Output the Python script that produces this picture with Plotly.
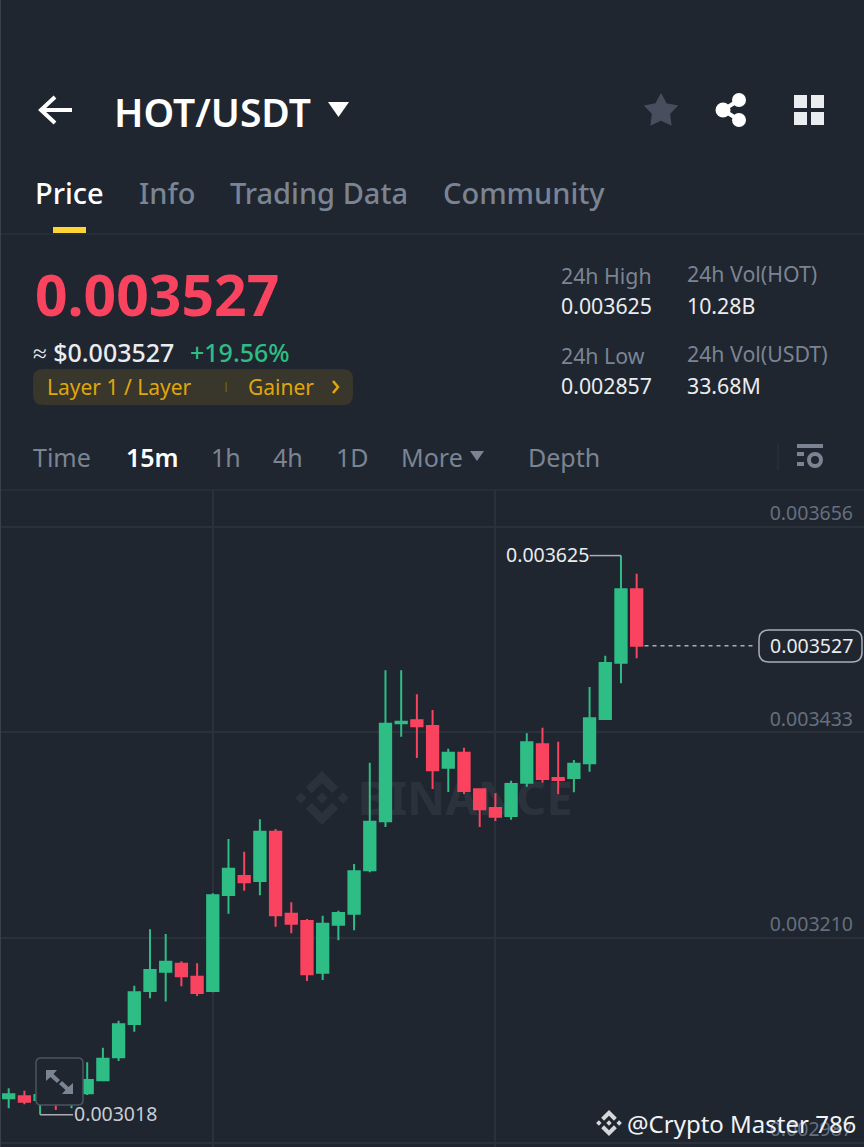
import numpy as np
import plotly.graph_objects as go

W, H = 864, 1147
BG = "#1F2630"
GRID = "#2B313B"
GREEN = "#2EBD85"
RED = "#F9435F"
GREY = "#7B8492"
WHITE = "#EAECEF"
FONT = "Noto Sans"

# candles (15m)
opens = [0.0030357, 0.0030379, 0.0030339, 0.0030470, 0.0030383, 0.0030412, 0.0030553, 0.0030803, 0.0031164, 0.0031523,
         0.0031732, 0.0031819, 0.0031678, 0.0031523, 0.0032565, 0.0032771, 0.0032717, 0.0033252, 0.0032362, 0.0032283,
         0.0031721, 0.0032242, 0.0032362, 0.0032833, 0.0033365, 0.0034429, 0.0034462, 0.0034400, 0.0033947, 0.0034110,
         0.0033712, 0.0033510, 0.0033422, 0.0033784, 0.0034201, 0.0033835, 0.0033835, 0.0033995, 0.0034476, 0.0035087,
         0.0035884]
highs = [0.0030466, 0.0030440, 0.0030447, 0.0030534, 0.0030578, 0.0030749, 0.0030907, 0.0031200, 0.0031580, 0.0032192,
         0.0032141, 0.0031845, 0.0031823, 0.0032583, 0.0033173, 0.0033035, 0.0033387, 0.0033281, 0.0032486, 0.0032304,
         0.0032340, 0.0032394, 0.0032901, 0.0034001, 0.0035004, 0.0035004, 0.0034744, 0.0034573, 0.0034153, 0.0034164,
         0.0033723, 0.0033669, 0.0033806, 0.0034320, 0.0034381, 0.0034229, 0.0034031, 0.0034823, 0.0035163, 0.0036250,
         0.0036053]
lows = [0.0030249, 0.0030292, 0.0030180, 0.0030230, 0.0030250, 0.0030393, 0.0030553, 0.0030763, 0.0031081, 0.0031443,
        0.0031410, 0.0031573, 0.0031468, 0.0031508, 0.0032362, 0.0032612, 0.0032562, 0.0032221, 0.0032149, 0.0031631,
        0.0031642, 0.0032073, 0.0032182, 0.0032811, 0.0033303, 0.0034284, 0.0034052, 0.0033716, 0.0033683, 0.0033661,
        0.0033303, 0.0033368, 0.0033382, 0.0033741, 0.0033784, 0.0033658, 0.0033680, 0.0033904, 0.0034476, 0.0034863,
        0.0035135]
closes = [0.0030401, 0.0030320, 0.0030393, 0.0030350, 0.0030491, 0.0030556, 0.0030788, 0.0031161, 0.0031508, 0.0031751,
          0.0031840, 0.0031682, 0.0031500, 0.0032562, 0.0032850, 0.0032703, 0.0033252, 0.0032344, 0.0032253, 0.0031704,
          0.0032253, 0.0032370, 0.0032822, 0.0033360, 0.0034425, 0.0034446, 0.0034396, 0.0033919, 0.0034110, 0.0033694,
          0.0033495, 0.0033415, 0.0033770, 0.0034223, 0.0033824, 0.0033813, 0.0033990, 0.0034483, 0.0035084, 0.0035884,
          0.0035270]
candle_x = list(range(len(opens)))
grid_x = [13, 31]
price_ticks = [0.003656, 0.003433, 0.003210, 0.002987]

pair = "HOT/USDT"
tabs = ["Price", "Info", "Trading Data", "Community"]
last_price = "0.003527"
usd_price = "≈ $0.003527"
change = "+19.56%"
stats = [("24h High", "0.003625"), ("24h Low", "0.002857"), ("24h Vol(HOT)", "10.28B"), ("24h Vol(USDT)", "33.68M")]
intervals = ["Time", "15m", "1h", "4h", "1D", "More", "Depth"]


def P(x, y):
    return f"{x / W:.5f},{1 - y / H:.5f}"


def poly(points):
    return "M" + " L".join(P(x, y) for x, y in points) + " Z"


def rrect(x0, y0, x1, y1, r):
    return (f"M{P(x0 + r, y0)} L{P(x1 - r, y0)} Q{P(x1, y0)} {P(x1, y0 + r)} L{P(x1, y1 - r)} Q{P(x1, y1)} {P(x1 - r, y1)} "
            f"L{P(x0 + r, y1)} Q{P(x0, y1)} {P(x0, y1 - r)} L{P(x0, y0 + r)} Q{P(x0, y0)} {P(x0 + r, y0)} Z")


shapes = []
annotations = []


def fill(path, color, layer="above"):
    shapes.append(dict(type="path", xref="paper", yref="paper", path=path, fillcolor=color, line=dict(width=0), layer=layer))


def stroke(path, color, width=2, layer="above"):
    shapes.append(dict(type="path", xref="paper", yref="paper", path=path, line=dict(color=color, width=width), layer=layer))


def circle(cx, cy, r, color, line=None):
    shapes.append(dict(type="circle", xref="paper", yref="paper", x0=(cx - r) / W, x1=(cx + r) / W,
                       y0=1 - (cy + r) / H, y1=1 - (cy - r) / H,
                       fillcolor=color, line=dict(width=line[1], color=line[0]) if line else dict(width=0)))


def text(s, x, y, size, color, anchor="left", weight=400):
    # glyphs start a touch right of the anchor, so pull back a little
    annotations.append(dict(text=s, xref="paper", yref="paper", x=(x - 1.5) / W, y=1 - y / H, xanchor=anchor, yanchor="middle",
                            showarrow=False, borderpad=0, font=dict(family=FONT, size=size, color=color, weight=weight)))


def logo(cx, cy, s, color, layer="above"):
    # the little Binance diamond mark
    for dx, r in [(0, 0.21), (-0.78, 0.21), (0.78, 0.21)]:
        fill(poly([(cx + dx * s, cy - r * s), (cx + (dx + r) * s, cy), (cx + dx * s, cy + r * s), (cx + (dx - r) * s, cy)]), color, layer)
    for sign in (-1, 1):
        chevron = [(0, 1), (0.6, 0.4), (0.38, 0.18), (0, 0.56), (-0.38, 0.18), (-0.6, 0.4)]
        fill(poly([(cx + a * s, cy + sign * b * s) for a, b in chevron]), color, layer)


# header
stroke("M" + P(72, 110) + " L" + P(42, 110) + " M" + P(55, 97) + " L" + P(41, 110) + " L" + P(55, 123), "#FFFFFF", 4)
text(pair, 114, 112, 39, "#FFFFFF", weight=600)
fill(poly([(328, 102), (349, 102), (338.5, 117)]), "#FFFFFF")

angles = np.deg2rad(np.arange(-90, 270, 36))
radii = np.array([16, 8.5] * 5)
star = list(zip(661 + radii * np.cos(angles), 111 + radii * np.sin(angles)))
fill(poly(star), "#474F5E")
stroke(poly(star), "#474F5E", 2)

stroke("M" + P(739, 100) + " L" + P(723, 110) + " L" + P(739, 120), "#FFFFFF", 4)
circle(739, 100, 7, "#FFFFFF")
circle(723, 110, 7.5, "#FFFFFF")
circle(739, 120, 7, "#FFFFFF")

for x0 in (794, 811):
    for y0 in (95, 112):
        fill(poly([(x0, y0), (x0 + 13, y0), (x0 + 13, y0 + 13), (x0, y0 + 13)]), "#EAECEF")

# tabs
for label, x in zip(tabs, [35, 139, 230, 443]):
    text(label, x, 193, 29, "#FFFFFF" if label == "Price" else GREY, weight=500)
fill(poly([(53, 227), (86, 227), (86, 233), (53, 233)]), "#FCD535")
stroke("M" + P(0, 234) + " L" + P(W, 234), GRID, 1.5)

# price block
text(last_price, 35, 294, 57, RED, weight=700)
text(usd_price, 33, 352, 25, WHITE, weight=500)
text(change, 190, 352, 25, GREEN, weight=500)
fill(rrect(33, 369, 353, 405, 10), "#39362B")
text("Layer 1 / Layer", 47, 387, 21, "#E0A70B")
fill(poly([(225.5, 382), (227, 382), (227, 392), (225.5, 392)]), "#6B5A20")
text("Gainer", 248, 387, 21, "#E0A70B")
stroke("M" + P(333, 381) + " L" + P(338, 387) + " L" + P(333, 393), "#E0A70B", 2.5)

for (label, value), x, y0, y1 in zip(stats, [561, 561, 687, 687], [275, 355, 274, 354], [306, 386, 306, 386]):
    text(label, x, y0, 21.3, GREY)
    text(value, x, y1, 21.3, WHITE)

# interval bar
for label, x in zip(intervals, [33, 126, 211, 273, 336, 401, 528]):
    if label == "15m":
        text(label, x, 457, 25, "#FFFFFF", weight=600)
    else:
        text(label, x, 457, 25, GREY)
fill(poly([(470, 451), (484, 451), (477, 461)]), GREY)
stroke("M" + P(778, 443) + " L" + P(778, 470), GRID, 1.5)
fill(poly([(797, 444), (823, 444), (823, 448), (797, 448)]), GREY)
fill(poly([(797, 452), (804, 452), (804, 456), (797, 456)]), GREY)
fill(poly([(797, 462), (804, 462), (804, 466), (797, 466)]), GREY)
circle(815, 460, 6, BG, (GREY, 4))
stroke("M" + P(0, 490) + " L" + P(W, 490), GRID, 1.5)
stroke("M" + P(0.5, 0) + " L" + P(0.5, H), "#3A404B", 1)

# watermark sits under the candles
logo(322, 798, 27, "#2C323C", "below")
shapes.append(dict(type="rect", xref="paper", yref="paper", x0=360 / W, x1=570 / W, y0=1 - 818 / H, y1=1 - 782 / H,
                   line=dict(width=0), layer="below",
                   label=dict(text="BINANCE", textposition="middle center",
                              font=dict(family=FONT, size=47, color="#2C323C", weight=700))))

# high / low / last price call-outs, tied to the data
high_i = int(np.argmax(highs))
low_i = int(np.argmin(lows))
line_col = "#A9AEB6"
shapes.append(dict(type="line", xref="x", yref="y", x0=high_i - 2, x1=high_i, y0=highs[high_i], y1=highs[high_i],
                   line=dict(color=line_col, width=1.5)))
annotations.append(dict(text=f"{highs[high_i]:.6f}", xref="x", yref="y", x=high_i - 2, y=highs[high_i], xanchor="right",
                        yanchor="middle", yshift=1, showarrow=False, borderpad=0, font=dict(family=FONT, size=19.5, color=WHITE)))
shapes.append(dict(type="line", xref="x", yref="y", x0=low_i, x1=low_i + 2.1, y0=lows[low_i], y1=lows[low_i],
                   line=dict(color=line_col, width=1.5)))
annotations.append(dict(text=f"{lows[low_i]:.6f}", xref="x", yref="y", x=low_i + 2.1, y=lows[low_i], xanchor="left",
                        yanchor="middle", yshift=1, showarrow=False, borderpad=0, font=dict(family=FONT, size=19.5, color="#C9CDD3")))
shapes.append(dict(type="line", xref="x", yref="y", x0=len(opens) - 1 + 0.5, x1=47.6, y0=closes[-1], y1=closes[-1],
                   line=dict(color=line_col, width=1.5, dash="4px,4px")))
stroke(rrect(759, 630, 862, 662, 10), line_col, 1.5)
annotations.append(dict(text=f"{closes[-1]:.6f}", xref="paper", yref="y", x=811 / W, y=closes[-1], xanchor="center",
                        yanchor="middle", showarrow=False, borderpad=0, font=dict(family=FONT, size=19.5, color=WHITE)))

# expand button over the first candles
shapes.append(dict(type="path", xref="paper", yref="paper", path=rrect(36, 1058, 83, 1105, 5), fillcolor=BG,
                   line=dict(color="#4C5362", width=1.5)))
fill(poly([(46, 1070), (57, 1070), (53.5, 1074), (60, 1080), (57, 1083), (50.5, 1077), (46, 1081)]), GREY)
fill(poly([(73, 1094), (62, 1094), (65.5, 1090), (59, 1084), (62, 1081), (68.5, 1087), (73, 1083)]), GREY)

# credit
logo(609, 1123, 13, "#D5D7DB")
text("@Crypto Master 786", 627, 1123, 24, "#F2F3F5")

fig = go.Figure(go.Candlestick(
    x=candle_x, open=opens, high=highs, low=lows, close=closes,
    whiskerwidth=0,
    increasing=dict(line=dict(color=GREEN, width=2), fillcolor=GREEN),
    decreasing=dict(line=dict(color=RED, width=2), fillcolor=RED),
    hoverinfo="skip",
))

fig.update_layout(
    width=W, height=H,
    margin=dict(l=0, r=0, t=0, b=0),
    paper_bgcolor=BG, plot_bgcolor=BG,
    showlegend=False,
    boxgap=0.28, boxgroupgap=0,
    shapes=shapes,
    annotations=annotations,
    xaxis=dict(range=[-0.554, 54.48], tickvals=grid_x, showticklabels=False, ticks="", showgrid=True, gridcolor=GRID,
               gridwidth=1.5, zeroline=False, rangeslider=dict(visible=False), fixedrange=True),
    yaxis=dict(domain=[0, 657 / H], range=[0.0029829, 0.0036962], tickvals=price_ticks, tickformat=".6f", side="right",
               ticklabelposition="inside top", ticklabelstandoff=8, tickfont=dict(family=FONT, size=19.5, color="#666F7D"),
               ticks="", showgrid=True, gridcolor=GRID, gridwidth=1.5, zeroline=False, fixedrange=True),
)

fig.write_html("out.html", config=dict(displayModeBar=False),
               post_script="document.body.style.margin='0';document.body.style.overflow='hidden';")
